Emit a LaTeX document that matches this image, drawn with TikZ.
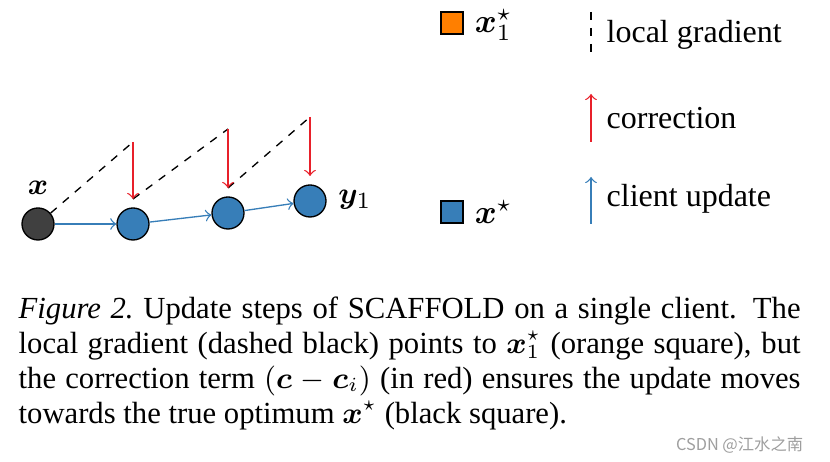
\documentclass[tikz,border=0pt]{standalone}
\usepackage{amsmath}
\usepackage{bm}
\usepackage[no-math]{fontspec}
\setmainfont{Liberation Serif}
\newfontfamily\cjkfont{Noto Sans CJK SC}
\usepackage{tikz}
\usetikzlibrary{arrows}
\definecolor{stepblue}{HTML}{377EB8}
\definecolor{optorange}{HTML}{FF7F00}
\definecolor{darkdot}{HTML}{404040}
\definecolor{corrred}{HTML}{E8202A}
\tikzstyle{point} = [circle, minimum size=9.6pt, inner sep=0pt, 
draw=black, fill=stepblue]
\tikzstyle{optbox} = [rectangle, minimum size=6.6pt, inner sep=0pt, 
draw=black]
\tikzstyle{grad} = [black, dash pattern=on 2.4pt off 2.4pt]
\tikzstyle{corr} = [corrred, ->]
\tikzstyle{update} = [stepblue, ->]
\tikzstyle{legtext} = [anchor=base west, inner sep=0pt, 
font=\fontsize{9.6}{12}\selectfont]

\begin{document}
\begin{tikzpicture}[x=0.3pt, y=-0.3pt,
    every node/.style={font=\fontsize{9.3}{11}\selectfont}]
\useasboundingbox (0,0) rectangle (830,462);

\node (start) [point, fill=darkdot] at (38,224) {};
\node (step1) [point] at (133,224) {};
\node (step2) [point] at (228,213) {};
\node (step3) [point] at (310,201) {};

\node (xlab) at (38,188) {$\bm{x}$};
\node (ylab) at (355,200) {$\bm{y}_1$};

%-------ends of local gradient and correction-------
\coordinate (g1) at (133,142);
\coordinate (g2) at (228,129);
\coordinate (g3) at (310,117);
\coordinate (a1) at (133,199);
\coordinate (a2) at (228,188);
\coordinate (a3) at (310,176);

\draw [grad] (start) -- (g1);
\draw [grad] (a1) -- (g2);
\draw [grad] (a2) -- (g3);
\draw [corr] (g1) -- (a1);
\draw [corr] (g2) -- (a2);
\draw [corr] (g3) -- (a3);
\draw [update] (start) -- (step1);
\draw [update] (step1) -- (step2);
\draw [update] (step2) -- (step3);

%----------legend----------------
\node (orange) [optbox, fill=optorange] at (452,23) {};
\node (blue) [optbox, fill=stepblue] at (452,212) {};
\node (olab) [anchor=west, font=\fontsize{10}{12}\selectfont] 
at (463,25) {$\bm{x}_1^\star$};
\node (blab) [anchor=west, font=\fontsize{10}{12}\selectfont] 
at (463,212) {$\bm{x}^\star$};

\coordinate (l1) at (591,12);
\coordinate (l2) at (591,58);
\coordinate (l3) at (591,142);
\coordinate (l4) at (591,94);
\coordinate (l5) at (591,224);
\coordinate (l6) at (591,177);

\draw [grad] (l1) -- (l2);
\draw [corr] (l3) -- (l4);
\draw [update] (l5) -- (l6);

\node (gradtxt) [legtext] at (606,43) {local gradient};
\node (corrtxt) [legtext] at (606,129) {correction};
\node (updtxt) [legtext] at (606,207) {client update};

%----------caption----------------
\node (caption) [anchor=north west, inner sep=0pt, text width=234.6pt, 
align=justify, font=\fontsize{9.2}{10.5}\selectfont] at (18,296)
{\textit{Figure 2.}\ Update steps of SCAFFOLD on a single client. The 
local gradient (dashed black) points to $\bm{x}_1^\star$ (orange square), 
but the correction term $(\bm{c}-\bm{c}_i)$ (in red) ensures the update 
moves towards the true optimum $\bm{x}^\star$ (black square).};

\node (mark) [anchor=east, text=black!38, 
font=\fontsize{4.9}{6}\cjkfont] at (815,445) {CSDN @江水之南};

\end{tikzpicture}
\end{document}
